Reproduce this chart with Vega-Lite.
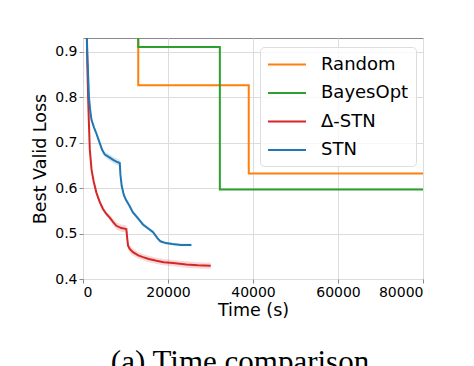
{
  "$schema": "https://vega.github.io/schema/vega-lite/v6.json",
  "autosize": "none",
  "width": 340,
  "height": 241,
  "padding": {"left": 83, "top": 38, "right": 51, "bottom": 87},
  "background": "white",
  "config": {
    "font": "DejaVu Sans",
    "view": {"stroke": "#8a8a8a", "strokeWidth": 1},
    "axis": {
      "labelFontSize": 14, "labelColor": "#000", "titleFontSize": 17.5, "titleFontWeight": "normal", "titleColor": "#000",
      "gridColor": "#dcdcdc", "gridWidth": 1, "domain": false, "tickColor": "#8a8a8a", "tickSize": 4, "labelPadding": 2
    },
    "legend": {
      "orient": "none", "legendX": 177, "legendY": 9,
      "symbolType": "M-1,0H3", "symbolSize": 361, "symbolStrokeWidth": 2, "symbolOpacity": 1,
      "labelFontSize": 18, "labelOffset": 33, "rowPadding": 8.5, "labelColor": "#000",
      "padding": 7, "strokeColor": "#dddddd", "fillColor": "rgba(255,255,255,0.8)", "cornerRadius": 4, "labelLimit": 200
    }
  },
  "title": {"text": "(a) Time comparison", "orient": "bottom", "anchor": "middle", "font": "Liberation Serif", "fontSize": 31, "fontWeight": "normal", "color": "#000", "offset": 29, "dx": -13},
  "data": {"values": [
    {"series": "Random", "t": 13000, "loss": 1.05},
    {"series": "Random", "t": 13000, "loss": 0.826},
    {"series": "Random", "t": 39000, "loss": 0.632},
    {"series": "Random", "t": 80000, "loss": 0.632},
    {"series": "BayesOpt", "t": 13000, "loss": 1.05},
    {"series": "BayesOpt", "t": 13000, "loss": 0.91},
    {"series": "BayesOpt", "t": 32200, "loss": 0.597},
    {"series": "BayesOpt", "t": 80000, "loss": 0.597},
    {"series": "Δ-STN", "t": 870, "loss": 0.95, "lo": 0.95, "hi": 0.95},
    {"series": "Δ-STN", "t": 1000, "loss": 0.88, "lo": 0.875, "hi": 0.885},
    {"series": "Δ-STN", "t": 1200, "loss": 0.8, "lo": 0.795, "hi": 0.805},
    {"series": "Δ-STN", "t": 1400, "loss": 0.74, "lo": 0.735, "hi": 0.745},
    {"series": "Δ-STN", "t": 1600, "loss": 0.685, "lo": 0.68, "hi": 0.69},
    {"series": "Δ-STN", "t": 2000, "loss": 0.641, "lo": 0.636, "hi": 0.646},
    {"series": "Δ-STN", "t": 2500, "loss": 0.615, "lo": 0.61, "hi": 0.62},
    {"series": "Δ-STN", "t": 3150, "loss": 0.59, "lo": 0.585, "hi": 0.595},
    {"series": "Δ-STN", "t": 3900, "loss": 0.57, "lo": 0.565, "hi": 0.575},
    {"series": "Δ-STN", "t": 4700, "loss": 0.554, "lo": 0.549, "hi": 0.559},
    {"series": "Δ-STN", "t": 5500, "loss": 0.543, "lo": 0.538, "hi": 0.548},
    {"series": "Δ-STN", "t": 6300, "loss": 0.535, "lo": 0.529, "hi": 0.541},
    {"series": "Δ-STN", "t": 7100, "loss": 0.525, "lo": 0.518, "hi": 0.532},
    {"series": "Δ-STN", "t": 7850, "loss": 0.517, "lo": 0.509, "hi": 0.525},
    {"series": "Δ-STN", "t": 9000, "loss": 0.512, "lo": 0.504, "hi": 0.52},
    {"series": "Δ-STN", "t": 10200, "loss": 0.51, "lo": 0.502, "hi": 0.518},
    {"series": "Δ-STN", "t": 10400, "loss": 0.49, "lo": 0.482, "hi": 0.498},
    {"series": "Δ-STN", "t": 10600, "loss": 0.473, "lo": 0.465, "hi": 0.481},
    {"series": "Δ-STN", "t": 11000, "loss": 0.466, "lo": 0.458, "hi": 0.474},
    {"series": "Δ-STN", "t": 11750, "loss": 0.459, "lo": 0.451, "hi": 0.467},
    {"series": "Δ-STN", "t": 13000, "loss": 0.452, "lo": 0.445, "hi": 0.459},
    {"series": "Δ-STN", "t": 14100, "loss": 0.448, "lo": 0.441, "hi": 0.455},
    {"series": "Δ-STN", "t": 15500, "loss": 0.444, "lo": 0.437, "hi": 0.451},
    {"series": "Δ-STN", "t": 17300, "loss": 0.44, "lo": 0.433, "hi": 0.447},
    {"series": "Δ-STN", "t": 19000, "loss": 0.437, "lo": 0.43, "hi": 0.444},
    {"series": "Δ-STN", "t": 21200, "loss": 0.435, "lo": 0.428, "hi": 0.442},
    {"series": "Δ-STN", "t": 24300, "loss": 0.432, "lo": 0.425, "hi": 0.439},
    {"series": "Δ-STN", "t": 27000, "loss": 0.43, "lo": 0.423, "hi": 0.437},
    {"series": "Δ-STN", "t": 30050, "loss": 0.429, "lo": 0.422, "hi": 0.436},
    {"series": "STN", "t": 870, "loss": 0.95, "lo": 0.95, "hi": 0.95},
    {"series": "STN", "t": 1000, "loss": 0.9, "lo": 0.897, "hi": 0.903},
    {"series": "STN", "t": 1400, "loss": 0.8, "lo": 0.797, "hi": 0.803},
    {"series": "STN", "t": 1700, "loss": 0.77, "lo": 0.767, "hi": 0.773},
    {"series": "STN", "t": 2000, "loss": 0.75, "lo": 0.747, "hi": 0.753},
    {"series": "STN", "t": 2600, "loss": 0.733, "lo": 0.729, "hi": 0.737},
    {"series": "STN", "t": 3150, "loss": 0.72, "lo": 0.716, "hi": 0.724},
    {"series": "STN", "t": 3900, "loss": 0.7, "lo": 0.695, "hi": 0.705},
    {"series": "STN", "t": 4500, "loss": 0.684, "lo": 0.679, "hi": 0.689},
    {"series": "STN", "t": 5100, "loss": 0.674, "lo": 0.668, "hi": 0.68},
    {"series": "STN", "t": 6300, "loss": 0.667, "lo": 0.66, "hi": 0.674},
    {"series": "STN", "t": 7100, "loss": 0.662, "lo": 0.655, "hi": 0.669},
    {"series": "STN", "t": 7850, "loss": 0.658, "lo": 0.651, "hi": 0.665},
    {"series": "STN", "t": 8650, "loss": 0.655, "lo": 0.649, "hi": 0.661},
    {"series": "STN", "t": 8800, "loss": 0.63, "lo": 0.626, "hi": 0.634},
    {"series": "STN", "t": 9100, "loss": 0.605, "lo": 0.601, "hi": 0.609},
    {"series": "STN", "t": 9600, "loss": 0.585, "lo": 0.581, "hi": 0.589},
    {"series": "STN", "t": 10100, "loss": 0.574, "lo": 0.57, "hi": 0.578},
    {"series": "STN", "t": 11000, "loss": 0.56, "lo": 0.556, "hi": 0.564},
    {"series": "STN", "t": 11700, "loss": 0.547, "lo": 0.543, "hi": 0.551},
    {"series": "STN", "t": 13000, "loss": 0.533, "lo": 0.529, "hi": 0.537},
    {"series": "STN", "t": 14100, "loss": 0.52, "lo": 0.516, "hi": 0.524},
    {"series": "STN", "t": 15500, "loss": 0.51, "lo": 0.506, "hi": 0.514},
    {"series": "STN", "t": 16500, "loss": 0.503, "lo": 0.499, "hi": 0.507},
    {"series": "STN", "t": 17500, "loss": 0.49, "lo": 0.487, "hi": 0.493},
    {"series": "STN", "t": 18200, "loss": 0.483, "lo": 0.48, "hi": 0.486},
    {"series": "STN", "t": 19500, "loss": 0.479, "lo": 0.476, "hi": 0.482},
    {"series": "STN", "t": 21000, "loss": 0.477, "lo": 0.474, "hi": 0.48},
    {"series": "STN", "t": 23000, "loss": 0.475, "lo": 0.472, "hi": 0.478},
    {"series": "STN", "t": 25500, "loss": 0.475, "lo": 0.472, "hi": 0.478}
  ]},
  "encoding": {
    "x": {"field": "t", "type": "quantitative", "title": "Time (s)",
      "scale": {"domain": [0, 80000], "nice": false},
      "axis": {"values": [0, 20000, 40000, 60000, 80000], "format": "d", "titlePadding": 2}},
    "color": {"field": "series", "type": "nominal", "title": null,
      "scale": {"domain": ["Random", "BayesOpt", "Δ-STN", "STN"], "range": ["#ff7f0e", "#2ca02c", "#d62728", "#1f77b4"]}}
  },
  "layer": [
    {
      "transform": [{"filter": "datum.lo != null"}],
      "mark": {"type": "area", "opacity": 0.18, "clip": true},
      "encoding": {
        "y": {"field": "lo", "type": "quantitative", "title": "Best Valid Loss",
          "scale": {"domain": [0.4, 0.93], "nice": false, "zero": false},
          "axis": {"values": [0.4, 0.5, 0.6, 0.7, 0.8, 0.9], "format": ".1f", "titlePadding": 5}},
        "y2": {"field": "hi"}
      }
    },
    {
      "transform": [{"filter": "datum.series == 'Random' || datum.series == 'BayesOpt'"}],
      "mark": {"type": "line", "interpolate": "step-after", "strokeWidth": 2, "clip": true},
      "encoding": {
        "y": {"field": "loss", "type": "quantitative"},
        "order": {"field": "t"}
      }
    },
    {
      "transform": [{"filter": "datum.series == 'Δ-STN' || datum.series == 'STN'"}],
      "mark": {"type": "line", "strokeWidth": 2, "clip": true},
      "encoding": {
        "y": {"field": "loss", "type": "quantitative"},
        "order": {"field": "t"}
      }
    }
  ]
}
